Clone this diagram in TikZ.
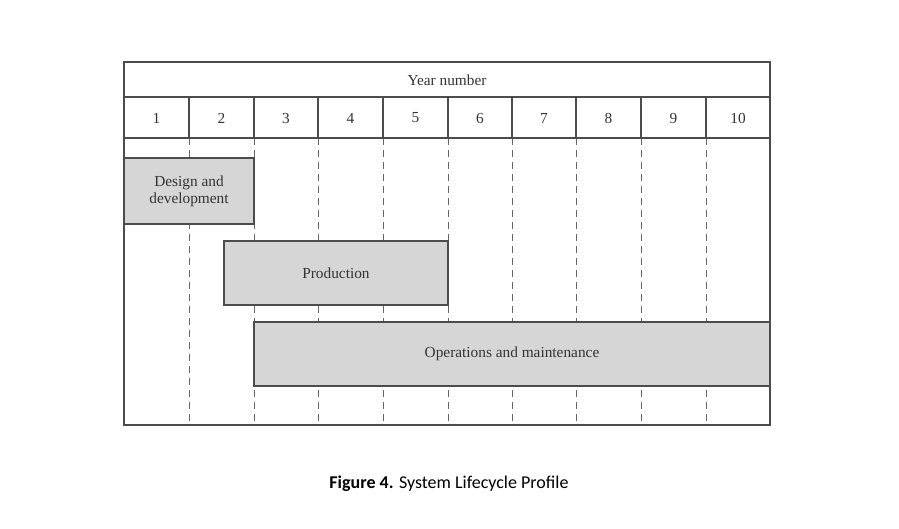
\documentclass[tikz,border=0pt]{standalone}
\usepackage{fontspec}
\setmainfont{Liberation Serif}
\newfontfamily\capfont{Carlito}
\begin{document}
\begin{tikzpicture}[x=0.75pt,y=-0.75pt,
  grid/.style={draw=black!70,line width=0.8pt},
  dashln/.style={draw=black!60,dash pattern=on 5pt off 4pt,line width=0.7pt},
  bar/.style={draw=black!70,fill=black!16,line width=0.8pt,align=center,inner sep=0pt},
  lbl/.style={font=\fontsize{11.5}{12.5}\selectfont,text=black!80}]
\useasboundingbox (0,0) rectangle (899,528);
\foreach \i/\x in {1/189,2/254,3/318,4/383,5/448,6/512,7/576,8/641,9/706}
  \draw[dashln] (\x,138) -- (\x,425);
\draw[grid] (124,62) rectangle (770,425);
\draw[grid] (124,97) -- (770,97);
\draw[grid] (124,138) -- (770,138);
\foreach \x in {189,254,318,383,448,512,576,641,706}
  \draw[grid] (\x,97) -- (\x,138);
\node[lbl] (yr) at (447,80) {Year number};
\foreach \i/\x in {1/156.5,2/221.5,3/286,4/350.5,5/415.5,6/480,7/544,8/608.5,9/673.5,10/738}
  \node[lbl] (n\i) at (\x,118) {\i};
\node[bar,minimum width=130*0.75pt,minimum height=66*0.75pt,lbl] (dd) at (189,191) {Design and\\development};
\node[bar,minimum width=224*0.75pt,minimum height=64*0.75pt,lbl] (pr) at (336,273) {Production};
\node[bar,minimum width=516*0.75pt,minimum height=64*0.75pt,lbl] (om) at (512,354) {Operations and maintenance};
\node[font=\capfont\fontsize{13.5}{15}\selectfont] (cap) at (449,484) {\textbf{Figure 4.} System Lifecycle Profile};
\end{tikzpicture}
\end{document}
